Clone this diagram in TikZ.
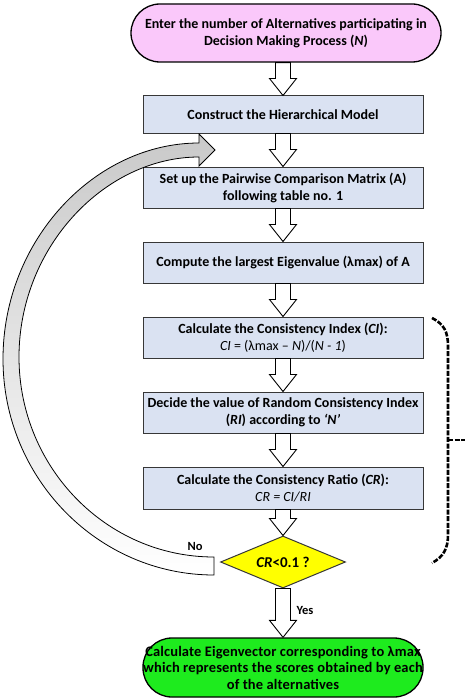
\documentclass[tikz,border=0pt]{standalone}
\usepackage{fontspec}
\setmainfont{Carlito}
\usetikzlibrary{calc,shapes.geometric}
\definecolor{pinkfill}{RGB}{250,200,250}
\definecolor{bluefill}{RGB}{218,226,242}
\definecolor{blueline}{RGB}{55,55,55}
\definecolor{greenfill}{RGB}{30,235,30}
\definecolor{yelfill}{RGB}{255,255,0}
\newcommand\barrow[2]{\draw[blockarrow] ($(#1)+(-7.5,0)$) -- ($(#2)+(-7.5,-17)$) -- ($(#2)+(-13.5,-17)$) -- (#2) -- ($(#2)+(13.5,-17)$) -- ($(#2)+(7.5,-17)$) -- ($(#1)+(7.5,0)$) -- cycle;}
\begin{document}
\begin{tikzpicture}[x=1pt,y=-1pt,
  boxfont/.style={font=\bfseries\fontsize{14}{17}\selectfont},
  bluebox/.style={draw=blueline, line width=1pt, fill=bluefill, minimum width=280pt, minimum height=41pt, inner sep=1pt, align=center, boxfont},
  termbox/.style={draw=black, line width=1.3pt, rounded corners=29pt, inner sep=0pt, align=center, boxfont},
  blockarrow/.style={draw=black, line width=0.9pt, fill=white, line join=miter},
  lbl/.style={font=\bfseries\fontsize{12.5}{14}\selectfont, inner sep=1pt}]
\useasboundingbox (0,0) rectangle (474,698);
\node[termbox, fill=pinkfill, minimum width=310pt, minimum height=58pt] (start) at (286,33)
  {Enter the number of Alternatives participating in\\ Decision Making Process (\textit{N})};
\node[bluebox, minimum height=37pt] (b1) at (283,114.5) {Construct the Hierarchical Model};
\node[bluebox] (b2) at (283,187.5) {Set up the Pairwise Comparison Matrix (A)\\ following table no. 1};
\node[bluebox] (b3) at (283,262.5) {Compute the largest Eigenvalue (λmax) of A};
\node[bluebox] (b4) at (283,337.5) {Calculate the Consistency Index (\textit{CI}):\\ {\mdseries\textit{CI} = (λmax – \textit{N})/(\textit{N - 1})}};
\node[bluebox] (b5) at (283,412.5) {Decide the value of Random Consistency Index\\ (\textit{RI}) according to \textit{‘N’}};
\node[bluebox, minimum height=42pt] (b6) at (283,488) {Calculate the Consistency Ratio (\textit{CR}):\\ {\mdseries\itshape CR = CI/RI}};
\node[diamond, draw=blueline, line width=1pt, fill=yelfill, minimum width=125pt, minimum height=52pt, aspect=2.4, inner sep=0pt, font=\bfseries\fontsize{15}{17}\selectfont] (dec) at (283,562) {\textit{CR}<0.1 ?};
\node[termbox, fill=greenfill, minimum width=280pt, minimum height=59pt, font=\bfseries\fontsize{14.5}{16.5}\selectfont\addfontfeatures{LetterSpace=1}] (end) at (283,667.5)
  {Calculate Eigenvector corresponding to λmax\\ which represents the scores obtained by each\\ of the alternatives};
\coordinate (s0) at (start.south -| b1.north);
\barrow{s0}{b1.north}
\barrow{b1.south}{b2.north}
\barrow{b2.south}{b3.north}
\barrow{b3.south}{b4.north}
\barrow{b4.south}{b5.north}
\barrow{b5.south}{b6.north}
\barrow{b6.south}{dec.north}
\barrow{dec.south}{end.north}
% feedback arrow
\coordinate (fbo) at (214,575);
\coordinate (fbi) at (214,557);
\coordinate (fbh) at (215,150);
\shade[draw=black, line width=0.8pt, top color=gray!42, bottom color=white, line join=miter]
  (fbo) .. controls (98,575) and (3,478) .. (3,359)
  .. controls (3,240) and (95,143) .. (199,143)
  -- (199,134) -- (fbh) -- (199,166) -- (199,157)
  .. controls (105,157) and (19,247) .. (19,357)
  .. controls (19,467) and (106,557) .. (fbi) -- cycle;
\node[lbl] (no) at (195,546) {No};
\node[lbl] (yes) at (305,610) {Yes};
% dashed brace
\coordinate (bt) at (432,318);
\coordinate (bb) at (432,563);
\coordinate (bm) at (448,440);
\coordinate (bk) at (465,440);
\draw[line width=2.6pt, dash pattern=on 5pt off 1.6pt]
  (bt) .. controls (444,324) and (448,332) .. (448,346) -- (448,535)
  .. controls (448,549) and (443,557) .. (bb);
\draw[line width=2.6pt, dash pattern=on 5pt off 1.6pt] (bm) -- (bk);
\end{tikzpicture}
\end{document}
